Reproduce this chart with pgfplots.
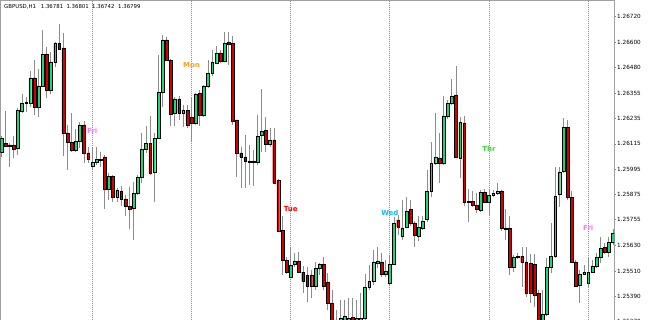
\documentclass[border=0pt]{standalone}
\usepackage{pgfplots}
\pgfplotsset{compat=1.18}
\usepackage{pgfplotstable}
\usepackage{fontspec}
\setmainfont{DejaVu Sans}
\definecolor{bull}{HTML}{1ED67A}
\definecolor{bear}{HTML}{D40000}
\definecolor{wick}{HTML}{8C8C8C}
\definecolor{sep}{HTML}{909090}
\definecolor{frame}{HTML}{A0A0A0}
\definecolor{friC}{HTML}{F47CF4}
\definecolor{monC}{HTML}{FFA020}
\definecolor{tueC}{HTML}{FF0000}
\definecolor{wedC}{HTML}{10B8F8}
\definecolor{thrC}{HTML}{40D040}

\pgfplotstableread{
i o h l c
0 1.26076 1.26153 1.26053 1.26143
1 1.26119 1.26272 1.26100 1.26105
2 1.26110 1.26119 1.26005 1.26105
3 1.26110 1.26153 1.26048 1.26091
4 1.26096 1.26286 1.26062 1.26276
5 1.26272 1.26353 1.26262 1.26310
6 1.26310 1.26338 1.26267 1.26314
7 1.26310 1.26462 1.26291 1.26429
8 1.26429 1.26514 1.26253 1.26291
9 1.26291 1.26472 1.26243 1.26391
10 1.26391 1.26657 1.26386 1.26543
11 1.26543 1.26576 1.26334 1.26372
12 1.26372 1.26552 1.26353 1.26505
13 1.26505 1.26600 1.26481 1.26595
14 1.26595 1.26686 1.26562 1.26567
15 1.26572 1.26643 1.26057 1.26167
16 1.26167 1.26205 1.25991 1.26124
17 1.26124 1.26262 1.26076 1.26086
18 1.26086 1.26186 1.26076 1.26129
19 1.26129 1.26219 1.26096 1.26205
20 1.26205 1.26224 1.26024 1.26072
21 1.26072 1.26100 1.26024 1.26043
22 1.26010 1.26100 1.25991 1.26029
23 1.26029 1.26100 1.26015 1.26043
24 1.26038 1.26076 1.26005 1.26043
25 1.26053 1.26062 1.25805 1.25900
26 1.25900 1.25977 1.25848 1.25962
27 1.25962 1.25967 1.25838 1.25862
28 1.25862 1.25905 1.25838 1.25896
29 1.25891 1.25915 1.25819 1.25853
30 1.25853 1.25872 1.25772 1.25819
31 1.25819 1.25910 1.25710 1.25805
32 1.25810 1.25934 1.25658 1.25881
33 1.25881 1.25967 1.25872 1.25957
34 1.25957 1.26167 1.25929 1.26091
35 1.26091 1.26200 1.26072 1.26119
36 1.26119 1.26248 1.25967 1.25977
37 1.25981 1.26167 1.25838 1.26143
38 1.26143 1.26538 1.26138 1.26362
39 1.26362 1.26633 1.26291 1.26610
40 1.26610 1.26624 1.26510 1.26514
41 1.26514 1.26519 1.26200 1.26257
42 1.26262 1.26338 1.26200 1.26329
43 1.26329 1.26343 1.26229 1.26262
44 1.26262 1.26300 1.26195 1.26276
45 1.26276 1.26300 1.26191 1.26205
46 1.26243 1.26338 1.26124 1.26215
47 1.26215 1.26357 1.26205 1.26353
48 1.26357 1.26372 1.26200 1.26253
49 1.26253 1.26395 1.26243 1.26391
50 1.26391 1.26514 1.26381 1.26453
51 1.26453 1.26562 1.26438 1.26505
52 1.26500 1.26581 1.26495 1.26548
53 1.26548 1.26562 1.26500 1.26510
54 1.26510 1.26648 1.26505 1.26595
55 1.26600 1.26648 1.26491 1.26591
56 1.26595 1.26629 1.26205 1.26224
57 1.26229 1.26229 1.25957 1.26072
58 1.26072 1.26100 1.25905 1.26053
59 1.26053 1.26157 1.25905 1.26034
60 1.26034 1.26110 1.25919 1.26029
61 1.26034 1.26086 1.25915 1.26029
62 1.26029 1.26253 1.26015 1.26153
63 1.26157 1.26376 1.26076 1.26176
64 1.26181 1.26243 1.26076 1.26115
65 1.26115 1.26191 1.26100 1.26134
66 1.26134 1.26191 1.25924 1.25929
67 1.25943 1.25948 1.25696 1.25700
68 1.25705 1.25772 1.25491 1.25562
69 1.25562 1.25577 1.25496 1.25505
70 1.25481 1.25624 1.25477 1.25539
71 1.25543 1.25596 1.25529 1.25558
72 1.25558 1.25600 1.25501 1.25505
73 1.25505 1.25534 1.25405 1.25462
74 1.25491 1.25529 1.25362 1.25439
75 1.25491 1.25515 1.25382 1.25439
76 1.25439 1.25553 1.25420 1.25524
77 1.25524 1.25548 1.25491 1.25543
78 1.25543 1.25577 1.25420 1.25439
79 1.25458 1.25501 1.25324 1.25358
80 1.25358 1.25420 1.25229 1.25267
81 1.25277 1.25324 1.25205 1.25229
82 1.25267 1.25372 1.25229 1.25286
83 1.25277 1.25372 1.25253 1.25296
84 1.25277 1.25382 1.25253 1.25286
85 1.25291 1.25382 1.25253 1.25272
86 1.25267 1.25372 1.25229 1.25286
87 1.25277 1.25405 1.25267 1.25286
88 1.25286 1.25496 1.25277 1.25434
89 1.25434 1.25539 1.25420 1.25462
90 1.25462 1.25610 1.25443 1.25553
91 1.25548 1.25624 1.25524 1.25558
92 1.25553 1.25596 1.25481 1.25496
93 1.25496 1.25562 1.25481 1.25510
94 1.25453 1.25586 1.25443 1.25543
95 1.25543 1.25767 1.25539 1.25739
96 1.25753 1.25777 1.25681 1.25719
97 1.25677 1.25848 1.25658 1.25715
98 1.25719 1.25862 1.25715 1.25796
99 1.25805 1.25848 1.25724 1.25739
100 1.25739 1.25748 1.25624 1.25681
101 1.25677 1.25772 1.25653 1.25719
102 1.25715 1.25772 1.25705 1.25748
103 1.25758 1.25991 1.25743 1.25891
104 1.25891 1.26124 1.25862 1.26024
105 1.26024 1.26262 1.26015 1.26053
106 1.26048 1.26167 1.25929 1.26024
107 1.26024 1.26343 1.26015 1.26248
108 1.26248 1.26324 1.26234 1.26310
109 1.26310 1.26424 1.26300 1.26343
110 1.26348 1.26486 1.26048 1.26053
111 1.26048 1.26243 1.25953 1.26219
112 1.26215 1.26248 1.25819 1.25838
113 1.25843 1.25900 1.25743 1.25838
114 1.25843 1.25891 1.25815 1.25824
115 1.25824 1.25881 1.25786 1.25805
116 1.25800 1.25896 1.25791 1.25886
117 1.25886 1.25900 1.25834 1.25838
118 1.25838 1.25896 1.25777 1.25872
119 1.25872 1.25896 1.25862 1.25881
120 1.25881 1.25929 1.25872 1.25891
121 1.25891 1.25896 1.25700 1.25715
122 1.25715 1.25805 1.25658 1.25710
123 1.25715 1.25772 1.25491 1.25529
124 1.25529 1.25586 1.25505 1.25577
125 1.25577 1.25596 1.25567 1.25581
126 1.25581 1.25624 1.25434 1.25553
127 1.25553 1.25624 1.25386 1.25405
128 1.25548 1.25591 1.25358 1.25405
129 1.25543 1.25591 1.25339 1.25396
130 1.25405 1.25420 1.25253 1.25263
131 1.25267 1.25420 1.25253 1.25305
132 1.25305 1.25572 1.25296 1.25529
133 1.25529 1.25739 1.25501 1.25581
134 1.25581 1.26005 1.25572 1.25867
135 1.25877 1.26005 1.25815 1.25981
136 1.25986 1.26238 1.25977 1.26195
137 1.26195 1.26229 1.25848 1.25862
138 1.25862 1.25891 1.25548 1.25553
139 1.25553 1.25562 1.25434 1.25439
140 1.25443 1.25515 1.25358 1.25496
141 1.25496 1.25539 1.25491 1.25505
142 1.25453 1.25577 1.25434 1.25505
143 1.25505 1.25562 1.25501 1.25534
144 1.25534 1.25596 1.25524 1.25577
145 1.25577 1.25672 1.25548 1.25620
146 1.25624 1.25643 1.25591 1.25600
147 1.25600 1.25672 1.25577 1.25648
148 1.25648 1.25710 1.25634 1.25691
}\candles

\pgfplotsset{chartbase/.style={scale only axis, width=613.5pt, height=340pt,
  xmin=-0.21, xmax=148.23, at={(0.5pt,319.5pt)}, anchor=north west}}

\begin{document}
\begin{tikzpicture}
\useasboundingbox (0,0) rectangle (648pt,320pt);
\clip (0,0) rectangle (648pt,320pt);
\begin{axis}[chartbase, ymin=1.251792, ymax=1.267976,
  axis line style={draw=frame, line width=0.8pt},
  xtick={22,46,70,94,118,142}, xticklabels={}, xmajorgrids,
  x tick style={draw=none},
  major x grid style={draw=sep, line width=0.8pt, dash pattern=on 1pt off 1pt},
  ytick={1.26720,1.26600,1.26480,1.26355,1.26235,1.26115,1.25995,1.25875,1.25755,1.25630,1.25510,1.25390,1.25270},
  yticklabels={1.26720,1.26600,1.26480,1.26355,1.26235,1.26115,1.25995,1.25875,1.25755,1.25630,1.25510,1.25390,1.25270},
  ytick pos=right, yticklabel pos=right,
  y tick style={draw=gray, line width=0.6pt}, tick align=outside, major tick length=2pt,
  yticklabel style={font=\fontsize{5.7}{6}\selectfont, anchor=west, inner sep=0pt, xshift=1pt},
]
\addplot[draw=none, mark=none, error bars/.cd, y dir=plus, y explicit, error mark=none,
  error bar style={draw=wick, line width=1pt, solid}]
  table[x=i, y=l, y error plus expr={\thisrow{h}-\thisrow{l}}] {\candles};
\node[font=\bfseries\fontsize{7}{8}\selectfont, text=friC] at (axis cs:22,1.26178) {Fri};
\node[font=\bfseries\fontsize{7}{8}\selectfont, text=monC] at (axis cs:46,1.26491) {Mon};
\node[font=\bfseries\fontsize{7}{8}\selectfont, text=tueC] at (axis cs:70,1.25805) {Tue};
\node[font=\bfseries\fontsize{7}{8}\selectfont, text=wedC] at (axis cs:94,1.25788) {Wed};
\node[font=\bfseries\fontsize{7}{8}\selectfont, text=thrC] at (axis cs:118,1.26091) {Thr};
\node[font=\bfseries\fontsize{7}{8}\selectfont, text=friC] at (axis cs:142,1.25715) {Fri};
\end{axis}
\begin{axis}[chartbase, hide axis, ymin=0.001792, ymax=0.017976, ybar stacked, bar width=2.8pt]
\addplot[draw=none, fill=none] table[x=i, y expr={min(\thisrow{o},\thisrow{c})-1.25}] {\candles};
\addplot[draw=black, fill=bull, line width=0.35pt] table[x=i, y expr={max(\thisrow{c}-\thisrow{o},0)}] {\candles};
\addplot[draw=black, fill=bear, line width=0.35pt] table[x=i, y expr={max(\thisrow{o}-\thisrow{c},0)}] {\candles};
\end{axis}
\begin{scope}[every node/.style={anchor=base west, inner sep=0pt, font=\fontsize{5.4}{6}\selectfont}]
\node at (4pt,311.3pt) {GBPUSD,H1};
\node at (40.7pt,311.3pt) {1.36781};
\node at (66.3pt,311.3pt) {1.36801};
\node at (92pt,311.3pt) {1.36742};
\node at (118pt,311.3pt) {1.36799};
\end{scope}
\end{tikzpicture}
\end{document}
